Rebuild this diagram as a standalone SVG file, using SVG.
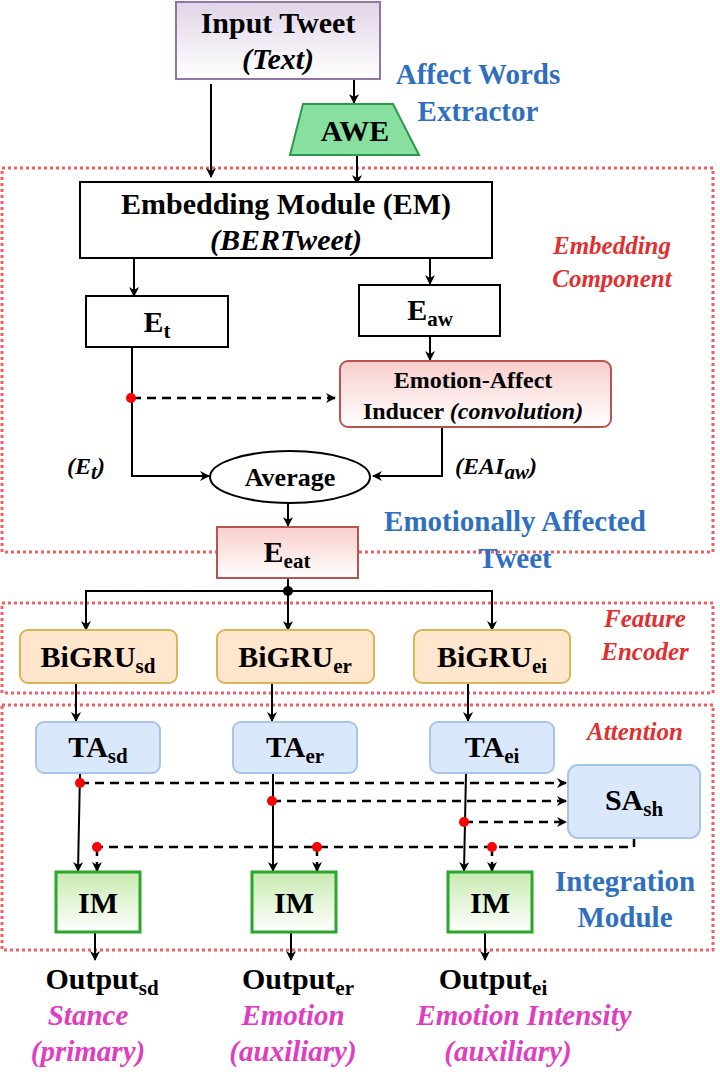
<svg xmlns="http://www.w3.org/2000/svg" width="720" height="1082" viewBox="0 0 720 1082">
<style>
text{font-family:"Liberation Serif",serif;font-weight:bold;text-anchor:middle}
.m{font-size:30px;fill:#000}
.i{font-style:italic}
.blue{fill:#2f6fbf;font-size:29px}
.red{fill:#e03030;font-size:25px;font-style:italic}
.mag{fill:#e03ec0;font-size:29px;font-style:italic}
.ln{stroke:#000;stroke-width:2;fill:none}
.da{stroke:#000;stroke-width:2.5;fill:none;stroke-dasharray:9,6}
.grp{fill:none;stroke:#f06060;stroke-width:3;stroke-dasharray:3,3}
.sub{font-size:21px}
</style>
<defs>
<marker id="a" markerWidth="10" markerHeight="10" refX="9" refY="5" orient="auto" markerUnits="userSpaceOnUse"><path d="M0,0 L10,5 L0,10 L3,5 z" fill="#000"/></marker>
<linearGradient id="gp" x1="0" y1="0" x2="0" y2="1"><stop offset="0" stop-color="#e1d5e7"/><stop offset="1" stop-color="#fff"/></linearGradient>
<linearGradient id="gr" x1="0" y1="0" x2="0" y2="1"><stop offset="0" stop-color="#f8cecc"/><stop offset="1" stop-color="#fff"/></linearGradient>
<linearGradient id="gg" x1="0" y1="0" x2="0" y2="1"><stop offset="0" stop-color="#c7eab0"/><stop offset="1" stop-color="#fff"/></linearGradient>
</defs>
<rect x="2" y="168" width="711" height="384" class="grp"/>
<rect x="2" y="603" width="711" height="90" class="grp"/>
<rect x="2" y="705" width="711" height="245" class="grp"/>
<g id="connectors">
<line x1="211" y1="84" x2="211" y2="177" class="ln" marker-end="url(#a)"/>
<line x1="354" y1="79" x2="354" y2="103" class="ln" marker-end="url(#a)"/>
<line x1="357" y1="155" x2="357" y2="184" class="ln" marker-end="url(#a)"/>
<line x1="134" y1="258" x2="134" y2="296" class="ln" marker-end="url(#a)"/>
<line x1="430" y1="258" x2="430" y2="284" class="ln" marker-end="url(#a)"/>
<line x1="430" y1="336" x2="430" y2="360" class="ln" marker-end="url(#a)"/>
<line x1="132" y1="398" x2="335" y2="398" class="da" marker-end="url(#a)"/>
<polyline points="132,347 132,476 209,476" class="ln" marker-end="url(#a)"/>
<polyline points="442,427 442,476 373,476" class="ln" marker-end="url(#a)"/>
<line x1="288" y1="502" x2="288" y2="526" class="ln" marker-end="url(#a)"/>
<line x1="288" y1="578" x2="288" y2="630" class="ln" marker-end="url(#a)"/>
<polyline points="288,591 86,591 86,630" class="ln" marker-end="url(#a)"/>
<polyline points="288,591 492,591 492,630" class="ln" marker-end="url(#a)"/>
<line x1="76" y1="683" x2="76" y2="721" class="ln" marker-end="url(#a)"/>
<line x1="272" y1="683" x2="272" y2="721" class="ln" marker-end="url(#a)"/>
<line x1="468" y1="683" x2="468" y2="721" class="ln" marker-end="url(#a)"/>
<line x1="80" y1="773" x2="78" y2="871" class="ln" marker-end="url(#a)"/>
<line x1="273" y1="773" x2="273" y2="871" class="ln" marker-end="url(#a)"/>
<line x1="466" y1="773" x2="464" y2="871" class="ln" marker-end="url(#a)"/>
<line x1="80" y1="783" x2="566" y2="783" class="da" marker-end="url(#a)"/>
<line x1="272" y1="801" x2="566" y2="801" class="da" marker-end="url(#a)"/>
<line x1="464" y1="822" x2="566" y2="822" class="da" marker-end="url(#a)"/>
<polyline points="634,838 634,847 97,847" class="da"/>
<line x1="97" y1="847" x2="97" y2="871" class="da" marker-end="url(#a)"/>
<line x1="317" y1="847" x2="317" y2="871" class="da" marker-end="url(#a)"/>
<line x1="492" y1="847" x2="492" y2="871" class="da" marker-end="url(#a)"/>
<line x1="95" y1="932" x2="95" y2="960" class="ln" marker-end="url(#a)"/>
<line x1="291" y1="932" x2="291" y2="960" class="ln" marker-end="url(#a)"/>
<line x1="485" y1="932" x2="485" y2="960" class="ln" marker-end="url(#a)"/>
<circle cx="288" cy="591" r="5" fill="#000"/>
<g fill="#f00"><circle cx="131" cy="398" r="5"/><circle cx="80" cy="783" r="5"/><circle cx="272" cy="801" r="5"/><circle cx="464" cy="822" r="5"/><circle cx="97" cy="847" r="5"/><circle cx="317" cy="847" r="5"/><circle cx="492" cy="847" r="5"/></g>
</g>
<g id="input"><rect x="176" y="2" width="204" height="77" fill="url(#gp)" stroke="#9673a6" stroke-width="2"/><text x="278" y="33" class="m">Input Tweet</text><text x="278" y="69" class="m i">(Text)</text></g>
<text x="478" y="84" class="blue">Affect Words</text><text x="478" y="121" class="blue">Extractor</text>
<g id="awe"><polygon points="303,104 393,104 419,155 290,155" fill="#88e0a0" stroke="#2a9a4a" stroke-width="2"/><text x="355" y="141" class="m">AWE</text></g>
<g id="em"><rect x="80" y="182" width="412" height="76" fill="#fff" stroke="#000" stroke-width="2"/><text x="286" y="214" class="m">Embedding Module (EM)</text><text x="286" y="250" class="m i">(BERTweet)</text></g>
<text x="612" y="254" class="red">Embedding</text><text x="612" y="287" class="red">Component</text>
<g id="et"><rect x="86" y="296" width="142" height="51" fill="#fff" stroke="#000" stroke-width="2"/><text x="157" y="332" class="m">E<tspan class="sub" dy="6">t</tspan></text></g>
<g id="eaw"><rect x="359" y="285" width="141" height="51" fill="#fff" stroke="#000" stroke-width="2"/><text x="430" y="320" class="m">E<tspan class="sub" dy="6">aw</tspan></text></g>
<g id="eai"><rect x="340" y="361" width="271" height="66" rx="8" fill="url(#gr)" stroke="#b85450" stroke-width="2"/><text x="473" y="388" style="font-size:24px">Emotion-Affect</text><text x="473" y="419" style="font-size:24px">Inducer <tspan class="i">(convolution)</tspan></text></g>
<text x="86" y="474" class="m i" style="font-size:24px">(E<tspan class="sub" dy="5">t</tspan><tspan dy="-5">)</tspan></text>
<text x="496" y="474" class="m i" style="font-size:24px">(EAI<tspan class="sub" dy="5">aw</tspan><tspan dy="-5">)</tspan></text>
<g id="avg"><ellipse cx="290" cy="477" rx="80" ry="26" fill="#fff" stroke="#000" stroke-width="2"/><text x="290" y="486" class="m" style="font-size:26px">Average</text></g>
<text x="515" y="531" class="blue">Emotionally Affected</text><text x="515" y="568" class="blue">Tweet</text>
<g id="eeat"><rect x="217" y="527" width="141" height="51" fill="url(#gr)" stroke="#b85450" stroke-width="2"/><text x="287" y="562" class="m">E<tspan class="sub" dy="6">eat</tspan></text></g>
<g id="bigru" fill="#ffe6cc" stroke="#d6b656" stroke-width="2">
<rect x="20" y="630" width="157" height="53" rx="8"/><rect x="217" y="630" width="157" height="53" rx="8"/><rect x="414" y="630" width="156" height="53" rx="8"/></g>
<text x="98" y="667" class="m">BiGRU<tspan class="sub" dy="6">sd</tspan></text>
<text x="295" y="667" class="m">BiGRU<tspan class="sub" dy="6">er</tspan></text>
<text x="492" y="667" class="m">BiGRU<tspan class="sub" dy="6">ei</tspan></text>
<text x="645" y="627" class="red">Feature</text><text x="645" y="660" class="red">Encoder</text>
<g id="ta" fill="#dae8fc" stroke="#a9c4eb" stroke-width="2">
<rect x="36" y="722" width="124" height="51" rx="8"/><rect x="233" y="722" width="124" height="51" rx="8"/><rect x="430" y="722" width="124" height="51" rx="8"/><rect x="568" y="765" width="132" height="73" rx="10"/></g>
<text x="98" y="757" class="m">TA<tspan class="sub" dy="6">sd</tspan></text>
<text x="295" y="757" class="m">TA<tspan class="sub" dy="6">er</tspan></text>
<text x="492" y="757" class="m">TA<tspan class="sub" dy="6">ei</tspan></text>
<text x="634" y="810" class="m">SA<tspan class="sub" dy="6">sh</tspan></text>
<text x="635" y="740" class="red">Attention</text>
<text x="625" y="891" class="blue">Integration</text><text x="625" y="927" class="blue">Module</text>
<g id="im" fill="url(#gg)" stroke="#2aa62a" stroke-width="3">
<rect x="56" y="872" width="84" height="60"/><rect x="252" y="872" width="84" height="60"/><rect x="448" y="872" width="84" height="60"/></g>
<text x="98" y="913" class="m">IM</text><text x="294" y="913" class="m">IM</text><text x="490" y="913" class="m">IM</text>
<g id="outputs">
<text x="102" y="989" class="m">Output<tspan class="sub" dy="6">sd</tspan></text>
<text x="88" y="1025" class="mag">Stance</text><text x="88" y="1061" class="mag">(primary)</text>
<text x="298" y="989" class="m">Output<tspan class="sub" dy="6">er</tspan></text>
<text x="293" y="1025" class="mag">Emotion</text><text x="293" y="1061" class="mag">(auxiliary)</text>
<text x="493" y="989" class="m">Output<tspan class="sub" dy="6">ei</tspan></text>
<text x="524" y="1025" class="mag">Emotion Intensity</text><text x="508" y="1061" class="mag">(auxiliary)</text>
</g>
</svg>
